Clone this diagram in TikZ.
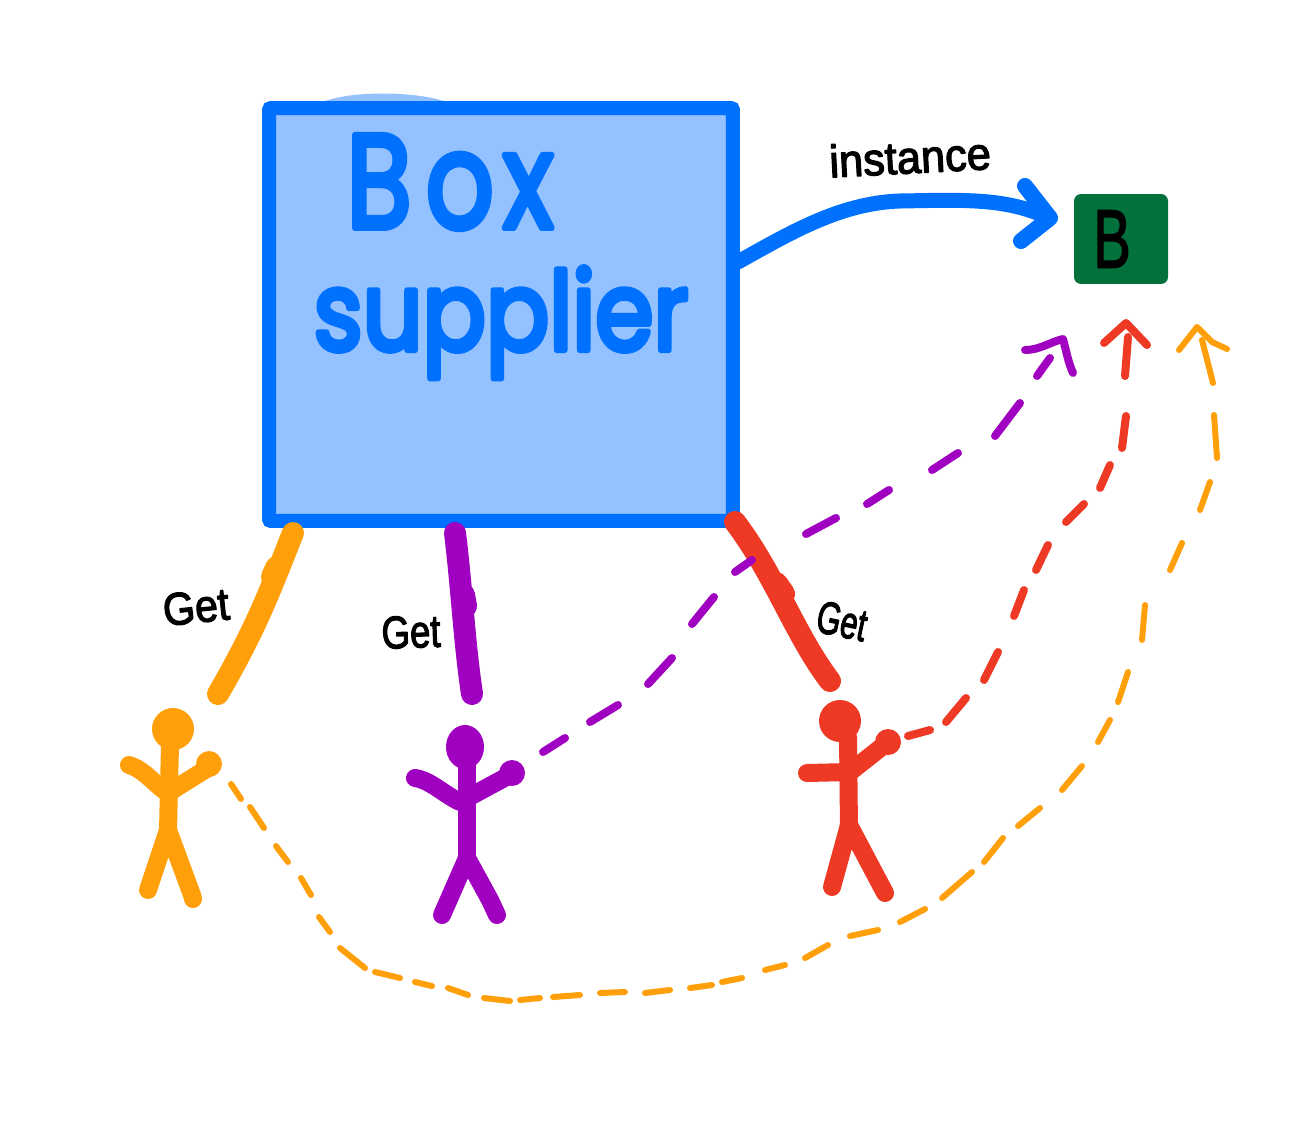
\documentclass[tikz,border=0pt]{standalone}
\usepackage{fontspec}
\setmainfont{Liberation Sans}
\newfontfamily\boxfont{Poppins}
\usetikzlibrary{calc}
\definecolor{boxblue}{HTML}{0070FF}
\definecolor{boxfill}{HTML}{94C1FF}
\definecolor{getorange}{HTML}{FF9F0A}
\definecolor{getpurple}{HTML}{A000C0}
\definecolor{getred}{HTML}{EE3A24}
\definecolor{bgreen}{HTML}{04703C}
\def\fatten#1#2{\special{pdf:code q 2 Tr #1 w 1 j 1 J}#2\special{pdf:code Q}}
\tikzset{
	limb/.style={line width=0.36cm, line cap=round, line join=round},
	lump/.style={line width=0.48cm, line cap=round},
	getline/.style={line width=0.44cm, line cap=round, line join=round},
	thickdash/.style={line width=0.16cm, line cap=round, line join=round},
	thindash/.style={line width=0.12cm, line cap=round, line join=round},
	hand/.style={font=\fontsize{26}{26}\selectfont, inner sep=0},
}

\begin{document}
\begin{tikzpicture}[x=0.02cm, y=-0.02cm]
		%%%%% START %%%%%
		
		\fill[white] (0, 0) rectangle (1290, 1135);
		\useasboundingbox (0, 0) rectangle (1290, 1135);
		
		\fill[boxfill] (318, 104) .. controls (345, 90) and (420, 90) .. (452, 104);
		\node[draw=boxblue, fill=boxfill, line width=0.28cm, rounded corners=0.04cm, outer sep=0, minimum width=9.28cm, minimum height=8.26cm] (supplier) at (501, 314.5) {};
		
		\node[text=boxblue, font=\boxfont\fontsize{76}{76}\selectfont, inner sep=0, xscale=0.8, anchor=base] (boxword) at (450, 228) {\fatten{3.4}{B\kern0.13em o\kern0.08em x}};
		\node[text=boxblue, font=\boxfont\fontsize{62}{62}\selectfont, inner sep=0, xscale=0.86, anchor=base] (supplierword) at (501, 350) {\fatten{3.4}{supplier}};
		
		\node[fill=bgreen, rounded corners=0.14cm, outer sep=0, inner sep=0, minimum width=1.88cm, minimum height=1.8cm, font=\fontsize{47}{47}\selectfont] (target) at (1121, 239) {\scalebox{0.68}[1]{\fatten{1}{B}}\kern0.36cm};
		\node[hand, rotate=3, xscale=0.95] (instanceword) at (910, 157) {\fatten{0.7}{instance}};
		
		\coordinate (instancestart) at ($(supplier.east |- 0, 265)+(5, -3)$);
		\coordinate (instanceend) at (1040, 214);
		\draw[boxblue, line width=0.3cm, line cap=round, line join=round] (instancestart) .. controls (790, 233) and (840, 203) .. (900, 201) .. controls (960, 200) and (1000, 198) .. (instanceend);
		\draw[boxblue, line width=0.32cm, line cap=round, line join=round] (1025, 186) -- (1050, 218) -- (1021, 241);
		
		%%%%% orange %%%%%
		\coordinate (orangetop) at (293, 533);
		\coordinate (orangeend) at (218, 694);
		\draw[getline, getorange] (orangetop) .. controls (270, 590) and (258, 625) .. (orangeend);
		\draw[lump, getorange] (277, 568) -- (273, 577);
		\node[hand, rotate=6, xscale=0.9] (getorangeword) at (196, 607) {\fatten{0.7}{Get}};
		\fill[getorange] (173, 729) circle (21);
		\draw[limb, getorange] (170, 745) -- (168, 830);
		\draw[limb, getorange] (129, 765) .. controls (145, 770) and (155, 785) .. (168, 793) -- (208, 768);
		\fill[getorange] (209, 764) circle (13);
		\draw[limb, getorange] (148, 890) -- (168, 830) -- (192, 895) -- (193, 899);
		
		%%%%% purple %%%%%
		\coordinate (purpletop) at (455, 533);
		\coordinate (purpleend) at (472, 694);
		\draw[getline, getpurple] (purpletop) .. controls (462, 590) and (464, 640) .. (purpleend);
		\draw[lump, getpurple] (463, 595) -- (465, 606);
		\node[hand, rotate=2, xscale=0.8] (getpurpleword) at (411, 632) {\fatten{0.7}{Get}};
		\fill[getpurple] (465, 747) ellipse (19 and 22);
		\draw[limb, getpurple] (467, 760) -- (467, 855);
		\draw[limb, getpurple] (415, 778) .. controls (430, 780) and (445, 795) .. (460, 802) -- (510, 775);
		\fill[getpurple] (512, 773) circle (13);
		\draw[limb, getpurple] (442, 915) -- (467, 858) -- (490, 900) -- (497, 915);
		
		%%%%% red %%%%%
		\coordinate (redtop) at (735, 522);
		\coordinate (redend) at (830, 681);
		\draw[getline, getred] (redtop) .. controls (775, 575) and (795, 635) .. (redend);
		\draw[lump, getred] (776, 584) -- (783, 594);
		\node[hand, rotate=-12, xscale=0.68] (getredword) at (842, 621) {\fatten{0.7}{Get}};
		\fill[getred] (840, 721) circle (21);
		\draw[limb, getred] (848, 737) -- (849, 830);
		\draw[limb, getred] (807, 773) -- (850, 772) -- (888, 742);
		\fill[getred] (888, 742) circle (13);
		\draw[limb, getred] (832, 887) -- (849, 825) -- (885, 893);
		
		%%%%% dashes %%%%%
		\foreach \xa/\ya/\xb/\yb in {543/752/565/738, 590/722/618/705, 648/684/672/658, 692/624/714/597, 735/572/752/560, 806/534/836/518, 867/504/889/490, 932/470/958/453, 995/436/1020/403, 1037/376/1050/358}
			\draw[thickdash, getpurple] (\xa, \ya) -- (\xb, \yb);
		\draw[thickdash, getpurple] (1025, 350) .. controls (1040, 350) and (1050, 342) .. (1063, 339) .. controls (1066, 350) and (1068, 362) .. (1073, 373);
		
		\foreach \xa/\ya/\xb/\yb in {908/736/930/730, 946/722/966/698, 984/680/998/652, 1014/616/1024/590, 1036/570/1048/545, 1066/522/1084/504, 1100/488/1110/465, 1122/448/1126/416, 1125/376/1128/337}
			\draw[thickdash, getred] (\xa, \ya) -- (\xb, \yb);
		\draw[thickdash, getred] (1104, 343) -- (1126, 323) -- (1147, 345);
		
		\foreach \xa/\ya/\xb/\yb in {231/784/241/799, 250/807/264/828, 276/846/288/862, 301/878/311/895, 319/917/330/932, 340/948/365/968, 375/972/400/978, 415/982/432/986, 448/988/468/995, 484/998/510/1001, 520/1000/540/998, 553/997/580/995, 600/993/625/992, 645/993/670/990, 690/988/712/985, 722/982/742/978, 765/970/785/965, 805/958/828/945, 850/936/878/930, 900/922/925/909, 942/898/972/872, 984/862/1003/838, 1018/826/1040/808, 1062/790/1082/766, 1098/742/1110/720, 1118/702/1128/672, 1142/640/1145/605, 1170/570/1182/543, 1200/510/1210/482, 1217/458/1214/415, 1213/383/1202/340}
			\draw[thindash, getorange] (\xa, \ya) -- (\xb, \yb);
		\draw[thindash, getorange] (1179, 350) -- (1197, 327) -- (1212, 342) -- (1227, 349);
		
		%%%%% END %%%%%
	\end{tikzpicture}
\end{document}
